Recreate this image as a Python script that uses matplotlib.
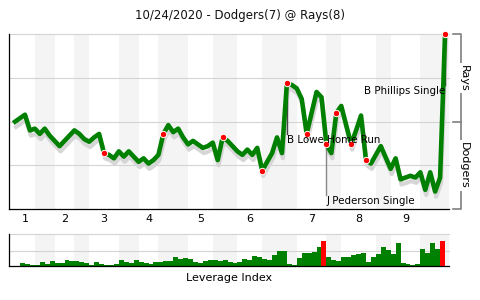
import matplotlib
matplotlib.use("Agg")
import matplotlib.pyplot as plt
import matplotlib.transforms as mtransforms

title = "10/24/2020 - Dodgers(7) @ Rays(8)"
home_team = "Rays"
away_team = "Dodgers"

# win expectancy of the home team after each event (event 0 = first pitch)
win_exp = [0.50, 0.52, 0.54, 0.45, 0.46, 0.43, 0.46, 0.42, 0.39, 0.36,
           0.39, 0.42, 0.45, 0.43, 0.40, 0.385, 0.41, 0.43, 0.32, 0.31,
           0.29, 0.33, 0.30, 0.33, 0.30, 0.27, 0.29, 0.26, 0.28, 0.31,
           0.43, 0.48, 0.44, 0.46, 0.41, 0.37, 0.39, 0.37, 0.35, 0.36,
           0.38, 0.28, 0.41, 0.39, 0.36, 0.33, 0.31, 0.34, 0.31, 0.35,
           0.22, 0.27, 0.32, 0.41, 0.32, 0.72, 0.71, 0.69, 0.63, 0.43,
           0.55, 0.67, 0.64, 0.37, 0.32, 0.55, 0.59, 0.48, 0.37, 0.45,
           0.535, 0.28, 0.26, 0.31, 0.36, 0.295, 0.23, 0.29, 0.17, 0.18,
           0.19, 0.18, 0.21, 0.11, 0.21, 0.10, 0.18, 1.00]

# leverage index of events 1..86
leverage = [0.6, 0.47, 0.2, 0.2, 0.8, 0.47, 1.0, 0.67, 0.67, 1.2,
            1.0, 1.0, 0.87, 0.67, 0.2, 0.8, 0.47, 0.2, 0.2, 0.47,
            1.2, 0.87, 0.67, 1.2, 0.87, 0.67, 0.47, 0.87, 0.8, 1.0,
            1.0, 1.8, 1.4, 1.6, 1.4, 0.87, 0.67, 1.0, 1.2, 1.2,
            1.07, 1.2, 0.87, 0.6, 0.87, 1.4, 1.2, 2.0, 1.8, 1.4,
            1.2, 2.2, 3.0, 3.0, 0.47, 0.27, 1.6, 2.6, 2.6, 2.8,
            3.8, 5.06, 1.8, 1.2, 1.0, 1.8, 1.8, 2.2, 2.47, 2.6,
            0.87, 1.8, 2.4, 3.8, 3.2, 2.4, 4.67, 0.67, 0.47, 0.27,
            0.47, 3.4, 2.6, 4.67, 3.47, 5.06]

scoring_plays = [18, 30, 42, 50, 55, 59, 63, 65, 68, 71, 87]
big_plays = {55: "B Lowe Home Run", 63: "J Pederson Single", 87: "B Phillips Single"}

# bottom halves of each inning (start event, end event)
bottom_halves = [(4, 8), (12, 15), (21, 25), (29, 35), (40, 45),
                 (50, 57), (63, 66), (73, 76), (82, 88)]
innings = ["1", "2", "3", "4", "5", "6", "7", "8", "9"]

green = "#008000"
band = "#f4f4f4"
grid = "#d4d4d4"

fig = plt.figure(figsize=(4.8, 3), dpi=100)
ax = fig.add_axes([0.0194, 0.3033, 0.916, 0.5823])
lev = fig.add_axes([0.0194, 0.1133, 0.916, 0.1057])

events = list(range(len(win_exp)))

for a in (ax, lev):
    for s, e in bottom_halves:
        a.axvspan(s, e, color=band, lw=0, zorder=0)
    a.set_xlim(-1.17, 87.8)
    a.set_xticks([])
    a.tick_params(left=False, labelleft=False)
    for sp in ("top", "right"):
        a.spines[sp].set_visible(False)
    for sp in ("left", "bottom"):
        a.spines[sp].set_linewidth(0.9)
        a.spines[sp].set_color("black")

# main chart
ax.set_ylim(0, 1)
for g in (0.25, 0.5, 0.75, 1.0):
    ax.axhline(g, color=grid, lw=0.8, zorder=1, clip_on=False)

shadow = mtransforms.offset_copy(ax.transData, fig=fig, x=0.7, y=-3.8, units="points")
ax.plot(events, win_exp, color="#d6d6d6", lw=3.0, transform=shadow,
        solid_joinstyle="round", zorder=2)

for i, txt in big_plays.items():
    y0 = win_exp[i]
    col = "#444444" if i != 63 else "#888888"
    ax.plot([i, i], [y0, y0 - 0.29], color=col, lw=1.0, zorder=2.5)
    if i == events[-1]:
        ax.text(i + 0.1, y0 - 0.323, txt, ha="right", va="center", fontsize=7.4, zorder=5)
    else:
        ax.text(i + 0.05, y0 - 0.323, txt, ha="left", va="center", fontsize=7.4, zorder=5)

ax.plot(events, win_exp, color=green, lw=3.3, solid_joinstyle="round", zorder=3)
ax.plot(scoring_plays, [win_exp[i] for i in scoring_plays], "o", color="red",
        ms=4.6, mec="white", mew=0.7, zorder=4, clip_on=False)

# inning labels centred on the top halves
prev = 0
for lab, (s, e) in zip(innings, bottom_halves):
    ax.text((prev + s) / 2, -0.057, lab, ha="center", va="center", fontsize=8,
            transform=ax.get_xaxis_transform())
    prev = e

# team bracket on the right
bx = ax.get_yaxis_transform()
ax.plot([1.0091, 1.0273, 1.0273, 1.0091], [1.0, 1.0, 0.0, 0.0], color="#7f7f7f",
        lw=1.2, transform=bx, clip_on=False)
ax.plot([1.0091, 1.0273], [0.5, 0.5], color="#7f7f7f", lw=1.2, transform=bx, clip_on=False)
ax.text(1.033, 0.75, home_team, rotation=270, ha="center", va="center", fontsize=8,
        transform=bx, bbox=dict(fc="white", ec="none", pad=1.5))
ax.text(1.033, 0.25, away_team, rotation=270, ha="center", va="center", fontsize=8,
        transform=bx, bbox=dict(fc="white", ec="none", pad=1.5))

# leverage chart
lev.set_ylim(0, 6.34)
for g in (3.0, 6.34):
    lev.axhline(g, color=grid, lw=0.8, zorder=1, clip_on=False)
colors = ["red" if v > 5 else green for v in leverage]
lev.bar([k + 0.5 for k in range(1, len(leverage) + 1)], leverage, width=1.0,
        color=colors, lw=0, zorder=2)

fig.text(0.5, 0.95, title, ha="center", va="center", fontsize=8.5, color="#111111")
fig.text(0.477, 0.073, "Leverage Index", ha="center", va="center", fontsize=8)

fig.savefig("out.png", dpi=100, facecolor="white")
